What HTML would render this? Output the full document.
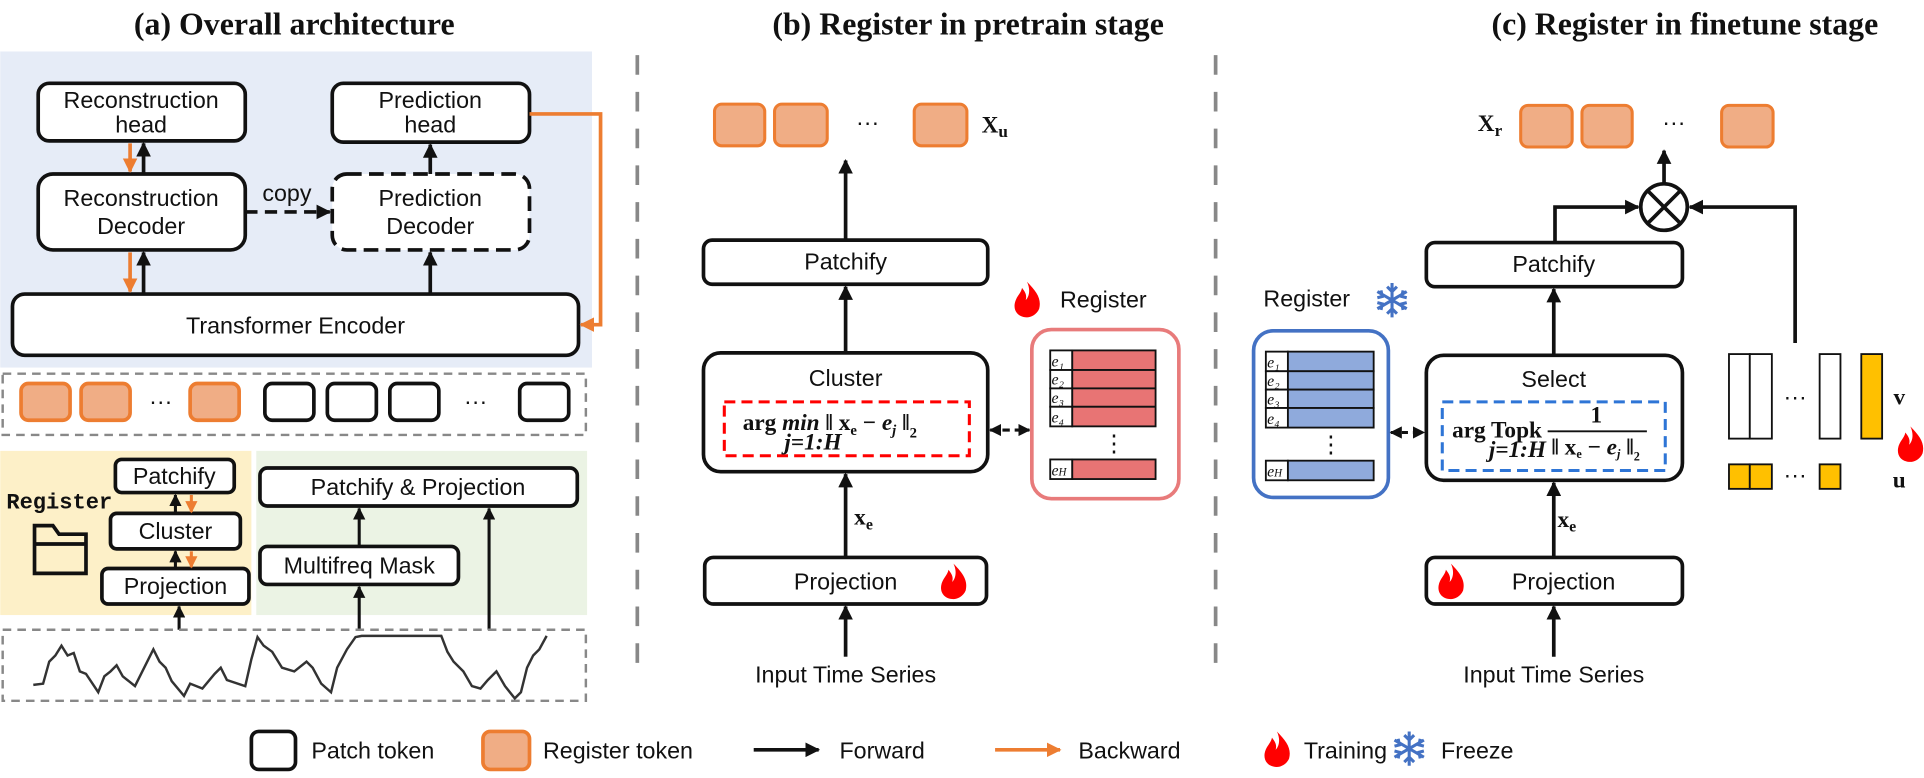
<!DOCTYPE html>
<html><head><meta charset="utf-8"><style>
html,body{margin:0;padding:0;background:#fff}
svg{display:block}
text{font-family:"Liberation Sans",sans-serif;font-size:19px;fill:#111}
.t{font-family:"Liberation Serif",serif;font-weight:bold;font-size:26px}
.m{font-family:"Liberation Serif",serif;font-weight:bold}
.b{fill:#fff;stroke:#111;stroke-width:3}
.e{font-family:"Liberation Serif",serif;font-size:13px;font-style:italic}
</style></head><body>
<svg width="1924" height="778" viewBox="0 0 1570 635" xmlns="http://www.w3.org/2000/svg">
<defs>
<marker id="ak" viewBox="0 0 10 10" refX="9" refY="5" markerWidth="4" markerHeight="4" orient="auto-start-reverse"><path d="M0,0L10,5L0,10z" fill="#111"/></marker>
<marker id="ao" viewBox="0 0 10 10" refX="9" refY="5" markerWidth="4" markerHeight="4" orient="auto-start-reverse"><path d="M0,0L10,5L0,10z" fill="#ed7d31"/></marker>
<g id="fire"><path d="M0,-14 C8,-6 12,0 10,8 C8,13 3,15 0,15 C-6,15 -11,11 -10,4 C-9,-2 -5,-4 -4,-9 C-1,-5 0,-3 -1,1 C2,-2 3,-8 0,-14z" fill="#f00"/></g>
<g id="snow" stroke="#4472c4" stroke-width="2.5" fill="none"><path d="M0,-14V14M-12,-7L12,7M-12,7L12,-7M-4,-11L0,-7L4,-11M-4,11L0,7L4,11M-12,-2L-8,-3L-9,-8M12,2L8,3L9,8M-12,2L-8,3L-9,8M12,-2L8,-3L9,-8"/></g>
</defs>
<text class="t" x="240" y="28" text-anchor="middle">(a) Overall architecture</text>
<text class="t" x="790" y="28" text-anchor="middle">(b) Register in pretrain stage</text>
<text class="t" x="1375" y="28" text-anchor="middle">(c) Register in finetune stage</text>

<!-- panel a -->
<rect x="0" y="42" width="483" height="258" fill="#e6ecf7"/>
<rect x="31" y="68" width="169" height="47" rx="9" class="b"/>
<text x="115" y="88" text-anchor="middle">Reconstruction</text><text x="115" y="108" text-anchor="middle">head</text>
<rect x="271" y="68" width="161" height="48" rx="9" class="b"/>
<text x="351" y="88" text-anchor="middle">Prediction</text><text x="351" y="108" text-anchor="middle">head</text>
<rect x="31" y="142" width="169" height="62" rx="12" class="b"/>
<text x="115" y="168" text-anchor="middle">Reconstruction</text><text x="115" y="191" text-anchor="middle">Decoder</text>
<rect x="271" y="142" width="161" height="62" rx="12" class="b" stroke-dasharray="12,6"/>
<text x="351" y="168" text-anchor="middle">Prediction</text><text x="351" y="191" text-anchor="middle">Decoder</text>
<text x="234" y="164" text-anchor="middle">copy</text>
<line x1="200" y1="173" x2="269" y2="173" stroke="#111" stroke-width="3" stroke-dasharray="10,6" marker-end="url(#ak)"/>
<rect x="10" y="240" width="462" height="50" rx="10" class="b"/>
<text x="241" y="272" text-anchor="middle">Transformer Encoder</text>
<line x1="117" y1="142" x2="117" y2="117" stroke="#111" stroke-width="3" marker-end="url(#ak)"/>
<line x1="106" y1="117" x2="106" y2="140" stroke="#ed7d31" stroke-width="3" marker-end="url(#ao)"/>
<line x1="117" y1="240" x2="117" y2="206" stroke="#111" stroke-width="3" marker-end="url(#ak)"/>
<line x1="106" y1="206" x2="106" y2="238" stroke="#ed7d31" stroke-width="3" marker-end="url(#ao)"/>
<line x1="351" y1="142" x2="351" y2="118" stroke="#111" stroke-width="3" marker-end="url(#ak)"/>
<line x1="351" y1="240" x2="351" y2="206" stroke="#111" stroke-width="3" marker-end="url(#ak)"/>
<polyline points="432,93 490,93 490,265 474,265" fill="none" stroke="#ed7d31" stroke-width="3" marker-end="url(#ao)"/>

<rect x="2" y="305" width="476" height="50" fill="none" stroke="#888" stroke-width="2" stroke-dasharray="7,5"/>
<g fill="#f0ad85" stroke="#ed7d31" stroke-width="3">
<rect x="17" y="313" width="40" height="30" rx="6"/><rect x="66" y="313" width="40" height="30" rx="6"/><rect x="155" y="313" width="40" height="30" rx="6"/></g>
<g fill="#fff" stroke="#111" stroke-width="3">
<rect x="216" y="313" width="40" height="30" rx="6"/><rect x="267" y="313" width="40" height="30" rx="6"/><rect x="318" y="313" width="40" height="30" rx="6"/><rect x="424" y="313" width="40" height="30" rx="6"/></g>
<text x="131" y="334" text-anchor="middle">···</text><text x="388" y="334" text-anchor="middle">···</text>

<rect x="0" y="368" width="205" height="134" fill="#fdf0c8"/>
<rect x="209" y="368" width="270" height="134" fill="#ebf3e4"/>
<text x="5" y="415" style="font-family:'Liberation Mono',monospace;font-weight:bold;font-size:18px">Register</text>
<path d="M28,442 V429 H43 L48,436 H70 V468 H28 Z M28,444 H70" fill="none" stroke="#111" stroke-width="3"/>
<rect x="94" y="375" width="97" height="27" rx="5" class="b"/><text x="142" y="395" text-anchor="middle">Patchify</text>
<rect x="90" y="419" width="106" height="29" rx="5" class="b"/><text x="143" y="440" text-anchor="middle">Cluster</text>
<rect x="83" y="464" width="120" height="29" rx="5" class="b"/><text x="143" y="485" text-anchor="middle">Projection</text>
<line x1="143" y1="419" x2="143" y2="404" stroke="#111" stroke-width="2.5" marker-end="url(#ak)"/>
<line x1="156" y1="404" x2="156" y2="418" stroke="#ed7d31" stroke-width="2.5" marker-end="url(#ao)"/>
<line x1="143" y1="464" x2="143" y2="450" stroke="#111" stroke-width="2.5" marker-end="url(#ak)"/>
<line x1="156" y1="450" x2="156" y2="463" stroke="#ed7d31" stroke-width="2.5" marker-end="url(#ao)"/>
<line x1="146" y1="514" x2="146" y2="495" stroke="#111" stroke-width="2.5" marker-end="url(#ak)"/>
<rect x="212" y="382" width="259" height="31" rx="6" class="b"/><text x="341" y="404" text-anchor="middle">Patchify &amp; Projection</text>
<rect x="212" y="446" width="162" height="31" rx="6" class="b"/><text x="293" y="468" text-anchor="middle">Multifreq Mask</text>
<line x1="293" y1="446" x2="293" y2="415" stroke="#111" stroke-width="2.5" marker-end="url(#ak)"/>
<line x1="293" y1="514" x2="293" y2="479" stroke="#111" stroke-width="2.5" marker-end="url(#ak)"/>
<line x1="399" y1="514" x2="399" y2="415" stroke="#111" stroke-width="2.5" marker-end="url(#ak)"/>
<rect x="2" y="514" width="476" height="58" fill="none" stroke="#888" stroke-width="2" stroke-dasharray="7,5"/>
<polyline fill="none" stroke="#333" stroke-width="2" points="27,559 35,558 40,540 45,535 50,527 55,535 60,533 65,548 70,550 80,565 85,552 90,548 95,543 100,552 110,560 120,540 125,530 130,540 135,545 140,556 150,568 155,558 165,562 175,550 180,545 185,555 200,560 205,538 210,520 215,527 222,532 230,545 240,548 250,540 255,545 262,558 270,565 275,545 283,530 290,520 295,519 360,519 365,532 370,540 378,548 385,560 392,562 398,555 405,548 412,560 420,570 425,565 430,545 435,535 440,530 446,519"/>

<!-- dividers -->
<line x1="520" y1="45" x2="520" y2="555" stroke="#888" stroke-width="3" stroke-dasharray="16,14"/>
<line x1="992" y1="45" x2="992" y2="555" stroke="#888" stroke-width="3" stroke-dasharray="16,14"/>

<!-- panel b -->
<g fill="#f0ad85" stroke="#ed7d31" stroke-width="2.5">
<rect x="583" y="85" width="41" height="34" rx="6"/><rect x="632" y="85" width="43" height="34" rx="6"/><rect x="746" y="85" width="43" height="34" rx="6"/></g>
<text x="708" y="106" text-anchor="middle">···</text>
<text class="m" x="801" y="108" font-size="21">X<tspan font-size="14" dy="4">u</tspan></text>
<line x1="690" y1="196" x2="690" y2="131" stroke="#111" stroke-width="3" marker-end="url(#ak)"/>
<rect x="574" y="196" width="232" height="36" rx="7" class="b"/><text x="690" y="220" text-anchor="middle">Patchify</text>
<line x1="690" y1="288" x2="690" y2="234" stroke="#111" stroke-width="3" marker-end="url(#ak)"/>
<rect x="574" y="288" width="232" height="97" rx="14" class="b"/><text x="690" y="315" text-anchor="middle">Cluster</text>
<rect x="591" y="328" width="200" height="44" fill="none" stroke="#f00" stroke-width="2.5" stroke-dasharray="9,5"/>
<text class="m" x="606" y="351" font-size="19">arg <tspan font-style="italic">min</tspan> ‖ x<tspan font-size="12" dy="4">e</tspan><tspan dy="-4"> − </tspan><tspan font-style="italic">e<tspan font-size="12" dy="4">j</tspan></tspan><tspan dy="-4"> ‖</tspan><tspan font-size="12" dy="6">2</tspan></text>
<text class="m" x="640" y="367" font-size="10" font-style="italic">j=1:H</text>
<line x1="808" y1="351" x2="840" y2="351" stroke="#111" stroke-width="2.5" stroke-dasharray="6,4" marker-start="url(#ak)" marker-end="url(#ak)"/>
<use href="#fire" x="838" y="244"/>
<text x="865" y="251">Register</text>
<rect x="842" y="269" width="120" height="138" rx="16" fill="#fff" stroke="#e87b7b" stroke-width="3"/>
<g stroke="#111" stroke-width="1.5">
<rect x="857" y="286" width="18" height="16" fill="#fff"/><rect x="875" y="286" width="68" height="16" fill="#e87474"/>
<rect x="857" y="302" width="18" height="15" fill="#fff"/><rect x="875" y="302" width="68" height="15" fill="#e87474"/>
<rect x="857" y="317" width="18" height="15" fill="#fff"/><rect x="875" y="317" width="68" height="15" fill="#e87474"/>
<rect x="857" y="332" width="18" height="16" fill="#fff"/><rect x="875" y="332" width="68" height="16" fill="#e87474"/>
<rect x="857" y="375" width="18" height="16" fill="#fff"/><rect x="875" y="375" width="68" height="16" fill="#e87474"/></g>
<text class="e" x="858" y="299">e₁</text><text class="e" x="858" y="314">e₂</text><text class="e" x="858" y="329">e₃</text><text class="e" x="858" y="345">e₄</text><text class="e" x="858" y="388">e<tspan font-size="9">H</tspan></text>
<text x="909" y="368" text-anchor="middle" font-size="14">⋮</text>
<text class="m" x="697" y="428" font-size="19">x<tspan font-size="13" dy="4">e</tspan></text>
<line x1="690" y1="455" x2="690" y2="387" stroke="#111" stroke-width="3" marker-end="url(#ak)"/>
<rect x="575" y="455" width="230" height="38" rx="7" class="b"/><text x="690" y="481" text-anchor="middle">Projection</text>
<use href="#fire" x="778" y="474"/>
<line x1="690" y1="536" x2="690" y2="495" stroke="#111" stroke-width="3" marker-end="url(#ak)"/>
<text x="690" y="557" text-anchor="middle" font-size="21">Input Time Series</text>

<!-- panel c -->
<text class="m" x="1206" y="107" font-size="21">X<tspan font-size="14" dy="4">r</tspan></text>
<g fill="#f0ad85" stroke="#ed7d31" stroke-width="2.5">
<rect x="1241" y="86" width="42" height="34" rx="6"/><rect x="1291" y="86" width="41" height="34" rx="6"/><rect x="1405" y="86" width="42" height="34" rx="6"/></g>
<text x="1366" y="106" text-anchor="middle">···</text>
<circle cx="1358" cy="169" r="19" fill="#fff" stroke="#111" stroke-width="3"/>
<path d="M1345,156L1371,182M1371,156L1345,182" stroke="#111" stroke-width="3"/>
<line x1="1358" y1="150" x2="1358" y2="123" stroke="#111" stroke-width="3" marker-end="url(#ak)"/>
<polyline points="1269,198 1269,169 1337,169" fill="none" stroke="#111" stroke-width="3" marker-end="url(#ak)"/>
<polyline points="1465,280 1465,169 1379,169" fill="none" stroke="#111" stroke-width="3" marker-end="url(#ak)"/>
<rect x="1164" y="198" width="209" height="36" rx="7" class="b"/><text x="1268" y="222" text-anchor="middle">Patchify</text>
<line x1="1268" y1="290" x2="1268" y2="236" stroke="#111" stroke-width="3" marker-end="url(#ak)"/>
<text x="1031" y="250">Register</text><use href="#snow" x="1136" y="245"/>
<rect x="1023" y="270" width="110" height="136" rx="16" fill="#fff" stroke="#4472c4" stroke-width="3"/>
<g stroke="#111" stroke-width="1.5">
<rect x="1033" y="287" width="18" height="16" fill="#fff"/><rect x="1051" y="287" width="70" height="16" fill="#8faadc"/>
<rect x="1033" y="303" width="18" height="15" fill="#fff"/><rect x="1051" y="303" width="70" height="15" fill="#8faadc"/>
<rect x="1033" y="318" width="18" height="15" fill="#fff"/><rect x="1051" y="318" width="70" height="15" fill="#8faadc"/>
<rect x="1033" y="333" width="18" height="16" fill="#fff"/><rect x="1051" y="333" width="70" height="16" fill="#8faadc"/>
<rect x="1033" y="376" width="18" height="16" fill="#fff"/><rect x="1051" y="376" width="70" height="16" fill="#8faadc"/></g>
<text class="e" x="1034" y="300">e₁</text><text class="e" x="1034" y="315">e₂</text><text class="e" x="1034" y="330">e₃</text><text class="e" x="1034" y="346">e₄</text><text class="e" x="1034" y="389">e<tspan font-size="9">H</tspan></text>
<text x="1086" y="369" text-anchor="middle" font-size="14">⋮</text>
<line x1="1135" y1="353" x2="1162" y2="353" stroke="#111" stroke-width="2.5" stroke-dasharray="5,4" marker-start="url(#ak)" marker-end="url(#ak)"/>
<rect x="1164" y="290" width="209" height="102" rx="14" class="b"/><text x="1268" y="316" text-anchor="middle">Select</text>
<rect x="1177" y="328" width="182" height="56" fill="none" stroke="#2e75d6" stroke-width="2.5" stroke-dasharray="9,5"/>
<text class="m" x="1185" y="357" font-size="16">arg Topk</text>
<text class="m" x="1215" y="373" font-size="10" font-style="italic">j=1:H</text>
<text class="m" x="1298" y="345" font-size="16">1</text>
<line x1="1263" y1="352" x2="1344" y2="352" stroke="#111" stroke-width="1.5"/>
<text class="m" x="1266" y="371" font-size="14">‖ x<tspan font-size="10" dy="3">e</tspan><tspan dy="-3"> − </tspan><tspan font-style="italic">e<tspan font-size="10" dy="3">j</tspan></tspan><tspan dy="-3"> ‖</tspan><tspan font-size="10" dy="5">2</tspan></text>
<g stroke="#111" stroke-width="1.5">
<rect x="1411" y="289" width="17" height="69" fill="#fff"/><rect x="1428" y="289" width="18" height="69" fill="#fff"/>
<rect x="1485" y="289" width="17" height="69" fill="#fff"/><rect x="1519" y="289" width="17" height="69" fill="#ffc000"/>
<rect x="1411" y="379" width="17" height="20" fill="#ffc000"/><rect x="1428" y="379" width="18" height="20" fill="#ffc000"/>
<rect x="1485" y="379" width="17" height="20" fill="#ffc000"/></g>
<text x="1465" y="330" text-anchor="middle">···</text><text x="1465" y="394" text-anchor="middle">···</text>
<text class="m" x="1550" y="330" font-size="21" text-anchor="middle">v</text><text class="m" x="1550" y="398" font-size="21" text-anchor="middle">u</text>
<use href="#fire" x="1559" y="362"/>
<text class="m" x="1271" y="430" font-size="19">x<tspan font-size="13" dy="4">e</tspan></text>
<line x1="1268" y1="455" x2="1268" y2="394" stroke="#111" stroke-width="3" marker-end="url(#ak)"/>
<rect x="1164" y="455" width="209" height="38" rx="7" class="b"/><text x="1276" y="481" text-anchor="middle">Projection</text>
<use href="#fire" x="1184" y="474"/>
<line x1="1268" y1="536" x2="1268" y2="495" stroke="#111" stroke-width="3" marker-end="url(#ak)"/>
<text x="1268" y="557" text-anchor="middle" font-size="21">Input Time Series</text>

<!-- legend -->
<rect x="205" y="597" width="36" height="31" rx="6" class="b"/><text x="254" y="619" font-size="20">Patch token</text>
<rect x="394" y="597" width="38" height="31" rx="6" fill="#f0ad85" stroke="#ed7d31" stroke-width="3"/><text x="443" y="619" font-size="20">Register token</text>
<line x1="615" y1="612" x2="668" y2="612" stroke="#111" stroke-width="3" marker-end="url(#ak)"/><text x="685" y="619" font-size="20">Forward</text>
<line x1="812" y1="612" x2="865" y2="612" stroke="#ed7d31" stroke-width="3" marker-end="url(#ao)"/><text x="880" y="619" font-size="20">Backward</text>
<use href="#fire" x="1042" y="611"/><text x="1064" y="619" font-size="20">Training</text>
<use href="#snow" x="1150" y="611"/><text x="1176" y="619" font-size="20">Freeze</text>
</svg>
</body></html>
